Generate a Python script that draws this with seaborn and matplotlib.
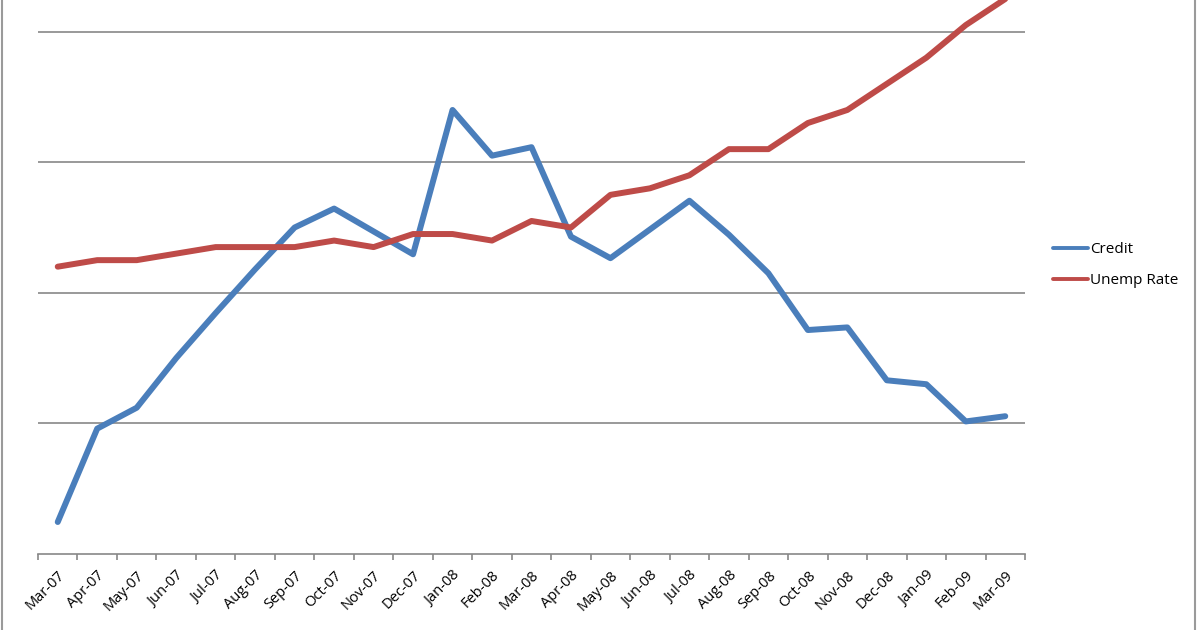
import numpy as np
import pandas as pd
import matplotlib
matplotlib.use("Agg")
import matplotlib.pyplot as plt
from matplotlib.lines import Line2D
import seaborn as sns

months = ["Mar-07", "Apr-07", "May-07", "Jun-07", "Jul-07", "Aug-07", "Sep-07",
          "Oct-07", "Nov-07", "Dec-07", "Jan-08", "Feb-08", "Mar-08", "Apr-08",
          "May-08", "Jun-08", "Jul-08", "Aug-08", "Sep-08", "Oct-08", "Nov-08",
          "Dec-08", "Jan-09", "Feb-09", "Mar-09"]
credit = [0.49, 1.92, 2.24, 3.00, 3.69, 4.36, 5.00, 5.29, 4.94, 4.59, 6.80, 6.10,
          6.23, 4.86, 4.53, 4.97, 5.41, 4.89, 4.30, 3.43, 3.47, 2.66, 2.60, 2.03, 2.11]
unemp = [4.4, 4.5, 4.5, 4.6, 4.7, 4.7, 4.7, 4.8, 4.7, 4.9, 4.9, 4.8, 5.1, 5.0,
         5.5, 5.6, 5.8, 6.2, 6.2, 6.6, 6.8, 7.2, 7.6, 8.1, 8.5]
series = ["Credit", "Unemp Rate"]
colors = ["#4A7EBB", "#BE4B48"]

pos = np.arange(len(months))
df = pd.concat([
    pd.DataFrame({"pos": pos, "value": credit, "series": series[0]}),
    pd.DataFrame({"pos": pos, "value": unemp, "series": series[1]}),
])

sns.set_style("white")
plt.rcParams["font.family"] = ["Open Sans", "DejaVu Sans"]

fig = plt.figure(figsize=(12, 6.3), dpi=100)
# axes runs past the top edge: the picture is a crop of a taller chart
ax = fig.add_axes([38 / 1200, 76 / 630, 987 / 1200, 653 / 630])

sns.lineplot(data=df, x="pos", y="value", hue="series", palette=colors,
             linewidth=4.3, ax=ax, sort=False, legend=False)

ax.set_xlim(-0.5, len(months) - 0.5)
ax.set_ylim(0, 10)
ax.set_yticks([2, 4, 6, 8])
ax.yaxis.grid(True, color="#878787", linewidth=1.2)
ax.set_axisbelow(True)
ax.tick_params(axis="y", left=False, labelleft=False)
ax.set_xlabel("")
ax.set_ylabel("")

for s in ["top", "right", "left"]:
    ax.spines[s].set_visible(False)
ax.spines["bottom"].set_color("#878787")
ax.spines["bottom"].set_linewidth(1.2)

ax.set_xticks(np.arange(len(months) + 1) - 0.5, minor=False)
ax.set_xticklabels([])
ax.tick_params(axis="x", which="major", direction="out", length=4,
               color="#878787", width=1.2, bottom=True)
ax.set_xticks(pos, minor=True)
ax.set_xticklabels(months, minor=True, rotation=45, ha="right", va="top",
                   rotation_mode="anchor", fontsize=10.5, color="black")
ax.tick_params(axis="x", which="minor", length=0, pad=10)

handles = [Line2D([], [], color=c, linewidth=2.8) for c in colors]
leg = ax.legend(handles, series, loc="center left",
                bbox_to_anchor=(1045 / 1200, 1 - 265 / 630),
                bbox_transform=fig.transFigure, frameon=False,
                fontsize=11, handlelength=2.3, handletextpad=0.15,
                labelspacing=1.05, borderpad=0)
for t in leg.get_texts():
    t.set_color("black")

# chart border seen at the left and right edges
fig.add_artist(Line2D([1.5 / 1200, 1.5 / 1200], [0, 1], color="#9a9a9a", linewidth=1.5))
fig.add_artist(Line2D([1195 / 1200, 1195 / 1200], [0, 1], color="#9a9a9a", linewidth=1.5))

fig.savefig("out.png", dpi=100)
